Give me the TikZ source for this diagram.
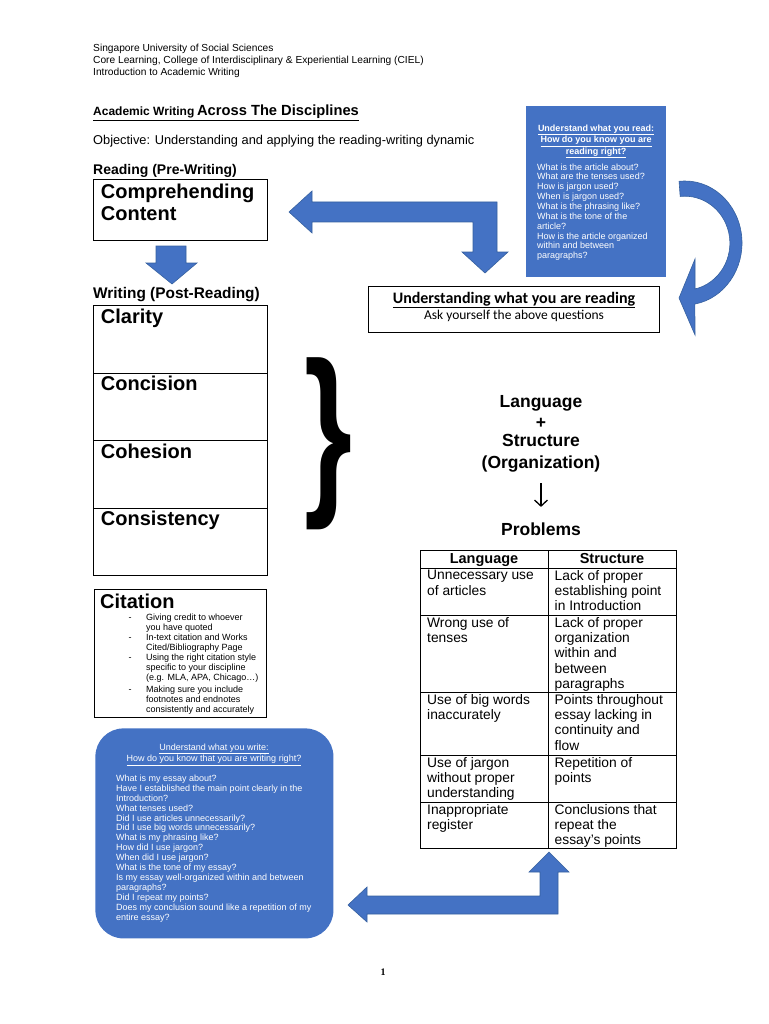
\documentclass[tikz,border=0pt]{standalone}
\usepackage{fontspec}
\setmainfont{Liberation Sans}
\newfontfamily\calibri{Carlito}
\newfontfamily\pagefont{Liberation Serif}
\usetikzlibrary{arrows.meta}
\definecolor{boxblue}{HTML}{4472C4}
\definecolor{arrowedge}{HTML}{35609F}

\begin{document}
\begin{tikzpicture}[x=1pt,y=-1pt,>=latex,
  box/.style={draw,line width=0.8pt,inner sep=0,anchor=north west},
  lbl/.style={inner sep=0,anchor=base west},
  head/.style={font=\bfseries\fontsize{20}{21.5}\selectfont,inner sep=0,anchor=north west,align=left},
  cell/.style={font=\fontsize{13.8}{15.3}\selectfont,inner sep=0,anchor=north west,align=left},
  qtext/.style={text=white,font=\fontsize{9}{9.9}\selectfont,inner sep=0,align=left},
  blockarrow/.style={fill=boxblue,draw=arrowedge,line width=0.6pt}]
\useasboundingbox (0,0) rectangle (768,1024);

% header
\node[inner sep=0,anchor=north west,align=left,font=\fontsize{10.2}{12}\selectfont] (hdr) at (93,43.6)
  {Singapore University of Social Sciences\\Core Learning, College of Interdisciplinary \& Experiential Learning (CIEL)\\Introduction to Academic Writing};
\node[lbl,font=\bfseries] (title) at (93,116)
  {\underline{{\fontsize{12}{14}\selectfont Academic Writing} {\fontsize{14.7}{16}\selectfont Across The Disciplines}}};
\node[lbl,font=\fontsize{12.8}{14}\selectfont] (obj) at (93,144.5) {Objective: Understanding and applying the reading-writing dynamic};

% reading
\node[lbl,font=\bfseries\fontsize{14}{16}\selectfont] (readlbl) at (93,175) {Reading (Pre-Writing)};
\node[box,minimum width=174,minimum height=61] (comp) at (93,179) {};
\node[head] (comptxt) at (100.7,184.3) {Comprehending\\Content};
\draw[blockarrow] (156,246) -- (186,246) -- (186,263) -- (197,263) -- (172,284) -- (146,263) -- (156,263) -- cycle;

% writing
\node[lbl,font=\bfseries\fontsize{15.4}{17}\selectfont] (writelbl) at (93,298.4) {Writing (Post-Reading)};
\foreach \name/\txt [count=\i from 0] in {clar/Clarity,conc/Concision,cohe/Cohesion,cons/Consistency}{
  \node[box,minimum width=174,minimum height=67.5] (\name) at (93,305+67.5*\i) {};
  \node[head] at (100.7,308.6+67.5*\i) {\txt};
}
\node[inner sep=0] (brace) at (329,444) {\resizebox*{48pt}{172pt}{\bfseries\}}};

% citation
\node[box,minimum width=172,minimum height=128] (cite) at (94,589) {};
\node[head] (citetxt) at (100,594.3) {Citation};
\node[inner sep=0,anchor=north west,align=left,font=\fontsize{9}{10}\selectfont] (citelist) at (146,613.6)
  {Giving credit to whoever\\you have quoted\\In-text citation and Works\\Cited/Bibliography Page\\Using the right citation style\\specific to your discipline\\(e.g. MLA, APA, Chicago\dots)\\[2pt]Making sure you include\\footnotes and endnotes\\consistently and accurately};
\foreach \y in {620.2,640.2,660.2,692.2}
  \node[inner sep=0,anchor=base,font=\fontsize{9}{10}\selectfont] at (130,\y) {-};

% read questions
\node[box,draw=none,fill=boxblue,minimum width=140,minimum height=171] (readq) at (526,106) {};
\node[qtext,align=center,anchor=north,font=\bfseries\fontsize{9}{9.4}\selectfont] (readqt) at (596,124.7)
  {\underline{Understand what you read:}\\\underline{How do you know you are}\\\underline{reading right?}};
\node[qtext,anchor=north west,font=\fontsize{9}{9.87}\selectfont] (readqb) at (537,163.3)
  {What is the article about?\\What are the tenses used?\\How is jargon used?\\When is jargon used?\\What is the phrasing like?\\What is the tone of the\\article?\\How is the article organized\\within and between\\paragraphs?};
\draw[blockarrow] (289,212) -- (312,191) -- (312,202) -- (497,202) -- (497,252) -- (508,252) -- (485,273)
  -- (462,252) -- (473,252) -- (473,222) -- (312,222) -- (312,233) -- cycle;
\draw[blockarrow] (685,243) ++(-96:57 and 62) arc[start angle=-96,end angle=80,x radius=57,y radius=62]
  -- (695,335) -- (679,298) -- (695,259) -- (695,289) arc[start angle=77,end angle=-96,x radius=45,y radius=47] -- cycle;

\node[box,minimum width=291,minimum height=46] (underst) at (368,286) {};
\node[inner sep=0,anchor=base,font=\calibri\bfseries\fontsize{16}{18}\selectfont] (unt) at (514,303) {\underline{Understanding what you are reading}};
\node[inner sep=0,anchor=base,font=\calibri\fontsize{13.5}{15}\selectfont] (ask) at (514,319.4) {Ask yourself the above questions};

% language + structure
\begin{scope}[every node/.style={inner sep=0,anchor=base,font=\bfseries\fontsize{17.5}{20}\selectfont}]
\node (lang) at (541,407.3) {Language};
\node (plus) at (541,428.8) {+};
\node (struc) at (541,446.3) {Structure};
\node (org) at (541,468.3) {(Organization)};
\node (prob) at (541,535.3) {Problems};
\end{scope}
\draw[-{Straight Barb[length=6pt,width=13pt]},line width=1.3pt,shorten <=11pt,shorten >=15.5pt] (org.south) -- (prob.north);

% problems table
\draw[line width=0.8pt] (420,550) rectangle (676,848);
\foreach \y in {568,615,692,755,802} \draw[line width=0.8pt] (420,\y) -- (676,\y);
\draw[line width=0.8pt] (548,550) -- (548,848);
\node[lbl,anchor=base,font=\bfseries\fontsize{14.5}{16}\selectfont] (hlang) at (484,563.2) {Language};
\node[lbl,anchor=base,font=\bfseries\fontsize{14.5}{16}\selectfont] (hstruc) at (612,563.2) {Structure};
\foreach \y/\l/\r in {570/{Unnecessary use\\of articles}/{Lack of proper\\establishing point\\in Introduction},
    617/{Wrong use of\\tenses}/{Lack of proper\\organization\\within and\\between\\paragraphs},
    694/{Use of big words\\inaccurately}/{Points throughout\\essay lacking in\\continuity and\\flow},
    757/{Use of jargon\\without proper\\understanding}/{Repetition of\\points},
    804/{Inappropriate\\register}/{Conclusions that\\repeat the\\essay's points}}{
  \node[cell] at (427,\y) {\l};
  \node[cell] at (554.5,\y) {\r};
}

% write questions
\node[box,draw=none,fill=boxblue,rounded corners=28pt,minimum width=238,minimum height=210] (writeq) at (95,728) {};
\node[qtext,align=center,anchor=north,font=\fontsize{9}{10}\selectfont] (writeqt) at (214,743.6)
  {\underline{Understand what you write:}\\\underline{How do you know that you are writing right?}};
\node[qtext,anchor=north west,font=\fontsize{9}{9.93}\selectfont] (writeqb) at (116,774.6)
  {What is my essay about?\\Have I established the main point clearly in the\\Introduction?\\What tenses used?\\Did I use articles unnecessarily?\\Did I use big words unnecessarily?\\What is my phrasing like?\\How did I use jargon?\\When did I use jargon?\\What is the tone of my essay?\\Is my essay well-organized within and between\\paragraphs?\\Did I repeat my points?\\Does my conclusion sound like a repetition of my\\entire essay?};
\draw[blockarrow] (348,905) -- (367,887) -- (367,896) -- (540,896) -- (540,872) -- (529,872) -- (549,852)
  -- (569,872) -- (558,872) -- (558,914) -- (367,914) -- (367,922) -- cycle;

\node[inner sep=0,font=\pagefont\bfseries\fontsize{10}{12}\selectfont] (pg) at (383,972) {1};
\end{tikzpicture}
\end{document}
